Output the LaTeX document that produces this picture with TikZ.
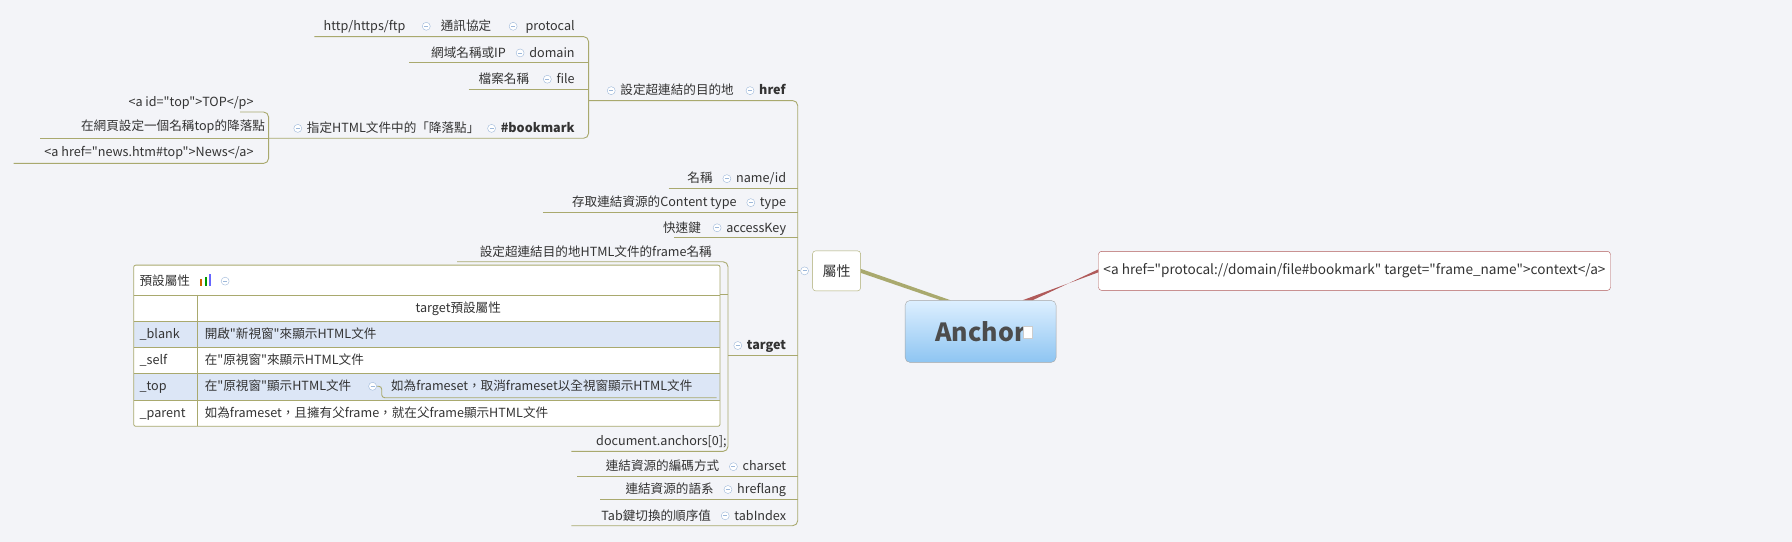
\documentclass[tikz,border=0pt]{standalone}
\usepackage{fontspec}
\newfontfamily\cjk{Noto Sans CJK TC}
\definecolor{bg}{HTML}{F3F4F8}
\definecolor{ol}{HTML}{A9A96E}
\definecolor{mc}{HTML}{9DB8DA}
\definecolor{rowb}{HTML}{DCE6F6}
\definecolor{rd}{HTML}{B05A5A}
\definecolor{tx}{HTML}{333333}
\definecolor{at}{HTML}{DDEFFF}
\definecolor{ab}{HTML}{8EC5F2}
\tikzset{
 lbl/.style={inner sep=0pt,anchor=base east,text=tx,font=\cjk\fontsize{12.6}{14}\selectfont},
 br/.style={draw=ol,line width=0.9pt,rounded corners=5pt},
 mcirc/.style={circle,draw=mc,fill=white,minimum size=8pt,inner sep=0pt,
   path picture={\draw[mc,line width=0.8pt] ([xshift=-2pt]path picture bounding box.center)--([xshift=2pt]path picture bounding box.center);}},
}
\begin{document}
\begin{tikzpicture}[x=1.1429pt,y=-1.1429pt]
\fill[bg] (0,0) rectangle (1568,474);
\useasboundingbox (0,0) rectangle (1568,474);
% ---------- href branch ----------
\node[lbl] (proto) at (503,27) {protocal};
\node[mcirc] (m1) at (449,23) {};
\node[lbl] (proto2) at (430,27) {通訊協定};
\node[mcirc] (m2) at (373,23) {};
\node[lbl] (http) at (355,27) {http/https/ftp};
\node[lbl] (dom) at (503,50) {網域名稱或IP\hspace{10pt}\tikz\node[mcirc]{};\hspace{5pt}domain};
\node[lbl] (file) at (503,73) {檔案名稱\hspace{14pt}\tikz\node[mcirc]{};\hspace{5pt}file};
\node[lbl] (bm) at (503,116) {\tikz\node[mcirc]{};\hspace{5pt}指定HTML文件中的「降落點」\hspace{8pt}\tikz\node[mcirc]{};\hspace{5pt}\textbf{\#bookmark}};
\node[lbl] (href) at (688,83) {\tikz\node[mcirc]{};\hspace{5pt}設定超連結的目的地\hspace{12pt}\tikz\node[mcirc]{};\hspace{5pt}\textbf{href}};
\node[lbl] (b1) at (222,93) {<a id="top">TOP</p>};
\node[lbl] (b2) at (232,114) {在網頁設定一個名稱top的降落點};
\node[lbl] (b3) at (222,137) {<a href="news.htm\#top">News</a>};
\draw[br] (275,32) -| (515,121) -- (235,121);
\draw[br] (358,55) -- (515,55);
\draw[br] (410,78) -- (515,78);
\draw[br] (210,98) -| (235,143) -- (12,143);
\draw[br] (35,121) -- (235,121);
% ---------- right column ----------
\node[lbl] (name) at (688,160) {名稱\hspace{10pt}\tikz\node[mcirc]{};\hspace{5pt}name/id};
\node[lbl] (type) at (688,181) {存取連結資源的Content type\hspace{10pt}\tikz\node[mcirc]{};\hspace{5pt}type};
\node[lbl] (acc) at (688,203) {快速鍵\hspace{12pt}\tikz\node[mcirc]{};\hspace{5pt}accessKey};
\node[lbl] (tgt) at (688,306) {\tikz\node[mcirc]{};\hspace{5pt}\textbf{target}};
\node[lbl] (cs) at (688,412) {連結資源的編碼方式\hspace{10pt}\tikz\node[mcirc]{};\hspace{5pt}charset};
\node[lbl] (hl) at (688,432) {連結資源的語系\hspace{10pt}\tikz\node[mcirc]{};\hspace{5pt}hreflang};
\node[lbl] (ti) at (688,455) {Tab鍵切換的順序值\hspace{10pt}\tikz\node[mcirc]{};\hspace{5pt}tabIndex};
\node[lbl] (fr) at (623,224) {設定超連結目的地HTML文件的frame名稱};
\node[lbl] (doc) at (636,390) {document.anchors[0];};
\draw[br] (515,88) -| (698,460) -- (500,460);
\draw[br] (585,165) -- (698,165);
\draw[br] (475,186) -- (698,186);
\draw[br] (590,208) -- (698,208);
\draw[br] (637,311) -- (698,311);
\draw[br] (505,417) -- (698,417);
\draw[br] (525,437) -- (698,437);
\draw[br] (400,229) -| (637,395) -- (500,395);
\draw[br] (630,258) -- (637,258);
% ---------- table ----------
\fill[white] (117,232) rectangle (630,373);
\fill[rowb] (117,281) rectangle (630,304);
\fill[rowb] (117,327) rectangle (630,350);
\draw[ol,line width=0.6pt] (117,258)--(630,258) (117,281)--(630,281) (117,304)--(630,304) (117,327)--(630,327) (117,350)--(630,350) (173,258)--(173,373);
\draw[ol,line width=0.8pt,rounded corners=2pt] (117,232) rectangle (630,373);
\node[lbl,anchor=base west] (th) at (122,250) {預設屬性};
\fill[orange!80!black] (175,244) rectangle (177,250);
\fill[green!60!black] (179,242) rectangle (181,250);
\fill[blue!60] (183,240) rectangle (185,250);
\node[mcirc] (m3) at (197,246) {};
\node[lbl,anchor=base] (tt) at (401,273) {target預設屬性};
\node[lbl,anchor=base west] (r1) at (122,296) {\_blank};
\node[lbl,anchor=base west] (r1t) at (179,296) {開啟"新視窗"來顯示HTML文件};
\node[lbl,anchor=base west] (r2) at (122,319) {\_self};
\node[lbl,anchor=base west] (r2t) at (179,319) {在"原視窗"來顯示HTML文件};
\node[lbl,anchor=base west] (r3) at (122,342) {\_top};
\node[lbl,anchor=base west] (r3t) at (179,342) {在"原視窗"顯示HTML文件};
\node[mcirc] (m4) at (326,338) {};
\node[lbl,anchor=base west] (r3s) at (342,342) {如為frameset，取消frameset以全視窗顯示HTML文件};
\draw[br,rounded corners=3pt] (330,338) -| (334,348) -- (627,348);
\node[lbl,anchor=base west] (r4) at (122,365) {\_parent};
\node[lbl,anchor=base west] (r4t) at (179,365) {如為frameset，且擁有父frame，就在父frame顯示HTML文件};
% ---------- centre ----------
\node[mcirc] (m5) at (704,237) {};
\node[draw=ol,fill=white,rounded corners=3pt,minimum width=48pt,minimum height=40pt,inner sep=2pt,text=tx,font=\cjk\fontsize{14}{16}\selectfont] (attr) at (732,237) {屬性};
\draw[ol,line width=1pt] (698,237) -- (m5);
\node[draw=gray!70,rounded corners=5pt,minimum width=151pt,minimum height=62pt,top color=at,bottom color=ab,font=\cjk\bfseries\fontsize{25}{28}\selectfont,text=black!70] (anc) at (858,290) {Anchor\hspace{16pt}};
\fill[white] (895,285) rectangle (903,296);
\draw[gray!40] (895,285) rectangle (903,296);
\node[draw=rd,fill=white,rounded corners=3pt,minimum height=39pt,inner xsep=5pt,text=tx,font=\cjk\fontsize{13.6}{16}\selectfont,anchor=west] (code) at (961,237) {<a href="protocal://domain/file\#bookmark" target="frame\_name">context</a>};
\fill[ol] ([yshift=-2pt]attr.east) -- ([yshift=2pt]attr.east) -- ([xshift=-30pt]anc.north) -- ([xshift=-40pt]anc.north) -- cycle;
\fill[rd] ([yshift=-1.5pt]code.west) -- ([yshift=1.5pt]code.west) -- ([xshift=52pt]anc.north) -- ([xshift=42pt]anc.north) -- cycle;
\end{tikzpicture}
\end{document}
